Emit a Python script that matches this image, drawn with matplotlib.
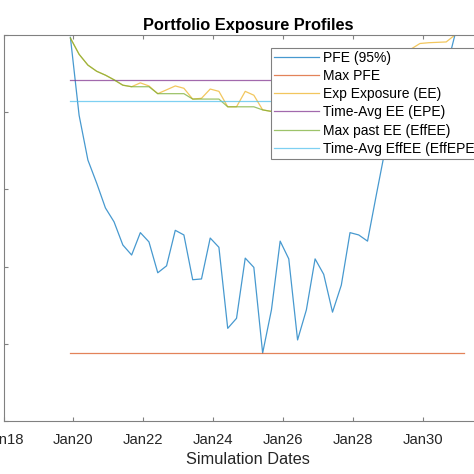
import matplotlib
matplotlib.use("Agg")
import matplotlib.pyplot as plt
import matplotlib.dates as mdates
import pandas as pd
import numpy as np
from datetime import datetime

plt.rcParams['font.family'] = ['Liberation Sans', 'DejaVu Sans']

# ---- data (y axis is reversed) ----
start_date = "2019-12-01"
n_dates = 46
dates = pd.date_range(start=start_date, periods=n_dates, freq="3MS")

pfe = [0.03, 1.04, 1.62, 1.92, 2.24, 2.42, 2.72, 2.85, 2.56, 2.68,
       3.08, 2.99, 2.53, 2.59, 3.17, 3.16, 2.63, 2.75, 3.80, 3.67,
       2.89, 3.01, 4.12, 3.56, 2.67, 2.90, 3.95, 3.56, 2.90, 3.10,
       3.59, 3.24, 2.56, 2.59, 2.67, 2.07, 1.49, 1.20, 1.00, 0.84,
       0.71, 0.63, 0.56, 0.45, 0.00, 0.00]
max_pfe = 4.12

ee = [0.04, 0.25, 0.39, 0.47, 0.52, 0.58, 0.65, 0.67, 0.62, 0.66,
      0.76, 0.71, 0.66, 0.69, 0.83, 0.82, 0.70, 0.73, 0.93, 0.93,
      0.73, 0.78, 0.97, 0.99, 0.82, 0.86, 1.02, 1.00, 0.84, 0.88,
      0.98, 0.92, 0.74, 0.72, 0.70, 0.55, 0.40, 0.30, 0.22, 0.18,
      0.11, 0.10, 0.095, 0.09, 0.00, 0.00]
epe = 0.587

eff_ee = [0.04, 0.25, 0.39, 0.47, 0.52, 0.58, 0.65, 0.67, 0.67, 0.67,
          0.76, 0.76, 0.76, 0.76, 0.83, 0.83, 0.83, 0.83, 0.93, 0.93,
          0.93, 0.93, 0.97, 0.99, 0.99, 0.99, 1.02, 1.02, 1.02, 1.02,
          1.02, 1.02, 1.02, 1.02, 1.02, 1.02, 1.02, 1.02, 1.02, 1.02,
          1.02, 1.02, 1.02, 1.02, 1.02, 1.02]
eff_epe = 0.85

labels = ["PFE (95%)", "Max PFE", "Exp Exposure (EE)", "Time-Avg EE (EPE)",
          "Max past EE (EffEE)", "Time-Avg EffEE (EffEPE)"]
colors = ["#0072BD", "#D95319", "#EDB120", "#7E2F8E", "#77AC30", "#4DBEEE"]
y_ticks = [0, 1, 2, 3, 4, 5]
x_tick_years = [2018, 2020, 2022, 2024, 2026, 2028, 2030]

# ---- figure ----
fig = plt.figure(figsize=(4.74, 4.74), dpi=100)
ax = fig.add_axes([3.5 / 474, 53 / 474, 489.3 / 474, 386 / 474])

lw = 0.9
al = 0.72
ax.plot(dates, pfe, color=colors[0], lw=lw, alpha=al, label=labels[0])
ax.plot(dates, [max_pfe] * n_dates, color=colors[1], lw=lw, alpha=al, label=labels[1])
ax.plot(dates, ee, color=colors[2], lw=lw, alpha=al, label=labels[2])
ax.plot(dates, [epe] * n_dates, color=colors[3], lw=lw, alpha=al, label=labels[3])
ax.plot(dates, eff_ee, color=colors[4], lw=lw, alpha=al, label=labels[4])
ax.plot(dates, [eff_epe] * n_dates, color=colors[5], lw=lw, alpha=al, label=labels[5])

ax.set_xlim(datetime(2018, 1, 1), datetime(2032, 1, 1))
ax.set_ylim(5, 0)
ax.set_yticks(y_ticks)
ax.set_xticks([datetime(y, 1, 1) for y in x_tick_years])
ax.xaxis.set_major_formatter(mdates.DateFormatter("%b%y"))

for s in ax.spines.values():
    s.set_color("#808080")
    s.set_linewidth(0.8)
ax.tick_params(direction="in", length=3.2, width=0.8, color="#808080",
               labelsize=10.7, labelcolor="#262626", top=True, right=True,
               pad=8.5)

ax.set_title("Portfolio Exposure Profiles", fontsize=11.8, fontweight="bold",
             pad=3.6)
ax.set_xlabel("Simulation Dates", fontsize=11.8, color="#262626", labelpad=4)

leg = ax.legend(loc="upper left", bbox_to_anchor=(0.547, 0.9676),
                borderaxespad=0, fontsize=10.0, frameon=True, fancybox=False,
                framealpha=1, edgecolor="#808080", handlelength=3.2,
                handletextpad=0.27, borderpad=0.24, labelspacing=0.3)
leg.get_frame().set_linewidth(0.8)

fig.savefig("out.png", dpi=100)
